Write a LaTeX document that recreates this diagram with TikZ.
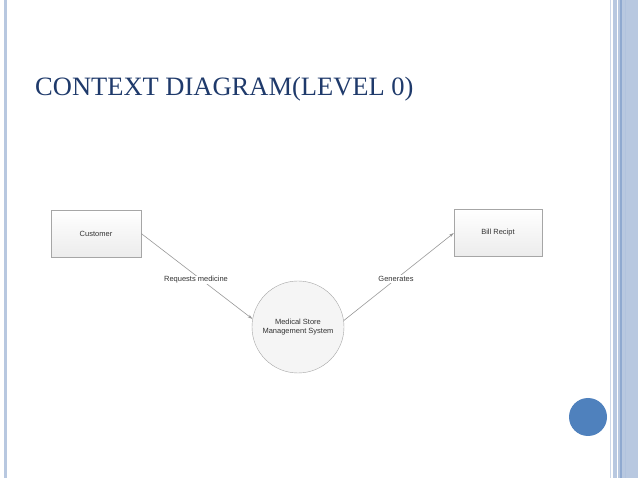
\documentclass[tikz,border=0pt]{standalone}
\usepackage{fontspec}
\setmainfont{Liberation Sans}
\newfontfamily\titlefont{Liberation Serif}
\usetikzlibrary{arrows.meta}
\definecolor{stripe}{HTML}{B8C8E0}
\definecolor{stripeD}{HTML}{8FA9D0}
\definecolor{titleblue}{HTML}{1F3A6B}
\definecolor{dot}{HTML}{4F81BD}
\begin{document}
\begin{tikzpicture}[x=1pt,y=-1pt,
  ent/.style={draw=gray!70,top color=white,bottom color=gray!15,minimum width=90pt,minimum height=47pt,inner sep=0pt,text=black!80,font=\fontsize{7.5}{8}\selectfont},
  proc/.style={circle,draw=gray!70,fill=gray!8,minimum size=92pt,inner sep=0pt,align=center,text=black!80,font=\fontsize{7.5}{9}\selectfont},
  flow/.style={draw=gray!80,line width=0.6pt,-{Stealth[length=5pt,width=3pt]}},
  lbl/.style={fill=white,inner sep=1pt,text=black!80,font=\fontsize{7.5}{8}\selectfont}]
\useasboundingbox (0,0) rectangle (638,478);
\fill[white] (0,0) rectangle (638,478);
% decorations
\fill[stripe] (4,0) rectangle (6.5,478);
\fill[stripe!70] (609.5,0) rectangle (611,478);
\fill[stripe] (613,0) rectangle (617,478);
\fill[stripe] (618,0) rectangle (638,478);
\fill[stripeD] (620,0) rectangle (621.5,478);
\fill[stripeD!70] (625,0) rectangle (626,478);
\node[circle,fill=dot,minimum size=38pt,inner sep=0pt] (dotc) at (588,417) {};
\node[anchor=base west,inner sep=0pt,text=titleblue,font=\titlefont\fontsize{26.5}{30}\selectfont] (title) at (35,96) {CONTEXT DIAGRAM(LEVEL 0)};
% diagram
\node[ent] (cust) at (96,233.5) {Customer};
\node[ent,minimum width=88pt] (bill) at (498,233) {Bill Recipt};
\node[proc] (sys) at (298,327) {Medical Store\\Management System};
\draw[flow] (cust.east) -- (sys.170);
\draw[flow] (sys.8) -- (bill.west);
\node[lbl] (l1) at (196,280) {Requests medicine};
\node[lbl] (l2) at (396,279) {Generates};
\end{tikzpicture}
\end{document}
